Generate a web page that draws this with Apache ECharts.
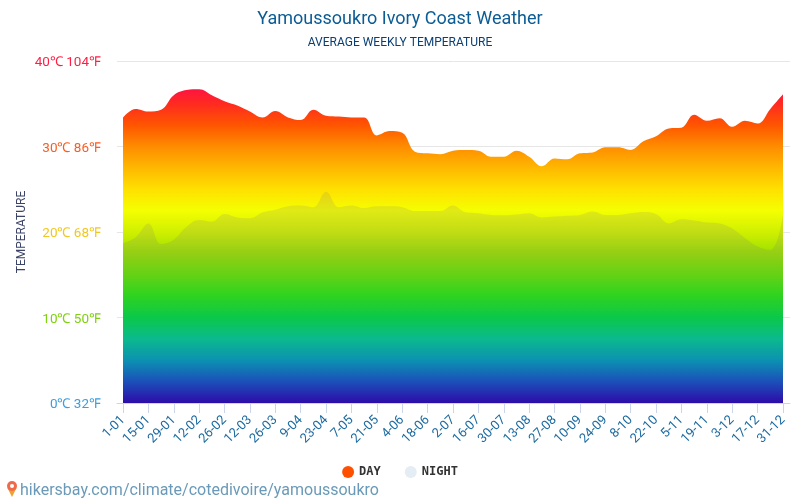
<!DOCTYPE html>
<html>
<head>
<meta charset="utf-8">
<style>html,body{margin:0;padding:0;background:#fff}#chart{width:800px;height:500px}</style>
<script src="https://cdn.jsdelivr.net/npm/echarts@6/dist/echarts.min.js"></script>
</head>
<body>
<div id="chart"></div>
<script>
// weekly values, 1 Jan to 31 Dec
const weeks = ['1-01','8-01','15-01','22-01','29-01','5-02','12-02','19-02','26-02','5-03','12-03','19-03','26-03','2-04','9-04','16-04','23-04','30-04','7-05','14-05','21-05','28-05','4-06','11-06','18-06','25-06','2-07','9-07','16-07','23-07','30-07','6-08','13-08','20-08','27-08','3-09','10-09','17-09','24-09','1-10','8-10','15-10','22-10','29-10','5-11','12-11','19-11','26-11','3-12','10-12','17-12','24-12','31-12'];
const dayTemp = [33.4,34.4,34.1,34.3,36.0,36.6,36.7,36.0,35.3,34.8,34.1,33.4,34.15,33.4,33.1,34.3,33.6,33.5,33.4,33.4,31.3,31.8,31.6,29.4,29.2,29.1,29.5,29.6,29.5,28.8,28.8,29.5,28.8,27.7,28.6,28.5,29.2,29.3,29.9,29.9,29.6,30.6,31.2,32.1,32.2,33.7,33.0,33.3,32.3,33.0,32.7,34.4,36.1];
const nightTemp = [18.7,19.4,21.0,18.6,19.1,20.6,21.4,21.2,22.1,21.7,21.6,22.3,22.6,23.0,23.1,22.9,24.7,22.9,23.1,22.8,23.0,23.0,22.9,22.45,22.45,22.45,23.1,22.3,22.2,22.0,21.95,22.05,22.2,21.7,21.8,21.9,22.0,22.4,22.0,22.0,22.2,22.35,22.1,21.0,21.5,21.35,21.1,21.0,20.4,19.3,18.3,17.9,22.0];
const tempTicks = { 0: '0℃ 32℉', 10: '10℃ 50℉', 20: '20℃ 68℉', 30: '30℃ 86℉', 40: '40℃ 104℉' };
const tickColors = { 0: '#3a9ee0', 10: '#7fd010', 20: '#f0c820', 30: '#ff5a1e', 40: '#ff1f44' };
// colour ramp from 0 to 37.5 in 2.5 degree steps, lower part is under the night overlay
const ramp = ['#2701aa','#144fbd','#019ab4','#00c88c','#00d83e','#28e50e','#67e402','#9ce000','#d0f000','#f4ff00','#ffe000','#ffb800','#ff8c00','#ff5500','#ff2a20','#ff0a50'];

const chart = echarts.init(document.getElementById('chart'));
chart.setOption({
  animation: false,
  textStyle: { fontFamily: 'Roboto' },
  title: [
    { text: 'Yamoussoukro Ivory Coast Weather', left: 'center', top: 5, textStyle: { fontSize: 18, fontWeight: 'normal', color: '#0b5c94' } },
    { text: 'AVERAGE WEEKLY TEMPERATURE', left: 'center', top: 32, textStyle: { fontSize: 12, fontWeight: 'normal', color: '#0a3f73' } }
  ],
  legend: {
    bottom: 17, left: 'center', itemGap: 24, itemWidth: 12, itemHeight: 12, icon: 'circle',
    textStyle: { fontFamily: 'DejaVu Sans Mono', fontWeight: 'bold', fontSize: 12, color: '#333' },
    data: [
      { name: 'DAY', itemStyle: { color: '#ff5000' } },
      { name: 'NIGHT', itemStyle: { color: '#e4edf3' } }
    ]
  },
  visualMap: { show: false, type: 'continuous', seriesIndex: 0, dimension: 1, min: 0, max: 37.5, inRange: { color: ramp } },
  grid: [
    { left: 123, right: 17, top: 61, bottom: 97 },
    { left: 117, right: 10, top: 61, bottom: 97 }
  ],
  xAxis: [
    {
      type: 'category', gridIndex: 0, data: weeks, boundaryGap: false, z: 5,
      axisLine: { show: false },
      axisTick: { show: true, length: 10, interval: 1, alignWithLabel: true, lineStyle: { color: '#ccd6eb' } },
      axisLabel: { interval: 1, rotate: 45, fontSize: 13, margin: 15, color: '#1a6aa0', showMaxLabel: true }
    },
    {
      type: 'category', gridIndex: 1, data: ['', ''], boundaryGap: false,
      axisLine: { lineStyle: { color: '#ccd6eb' } }, axisTick: { show: false }, axisLabel: { show: false }
    }
  ],
  yAxis: [
    {
      type: 'value', gridIndex: 0, min: 0, max: 40, interval: 10,
      name: 'TEMPERATURE', nameLocation: 'middle', nameGap: 95, nameMoveOverlap: false, nameTextStyle: { fontSize: 12, color: '#3c4468' },
      axisLine: { show: false }, axisTick: { show: false }, splitLine: { show: false },
      axisLabel: {
        margin: 22, fontSize: 13.5, verticalAlign: 'top', lineHeight: 4,
        formatter: v => tempTicks[v],
        color: v => tickColors[v]
      }
    },
    {
      type: 'value', gridIndex: 1, min: 0, max: 40, interval: 10,
      axisLine: { show: false }, axisTick: { show: false }, axisLabel: { show: false },
      splitLine: { lineStyle: { color: '#e6e6e6' } }
    }
  ],
  series: [
    {
      name: 'DAY', type: 'line', smooth: 0.4, symbol: 'none', z: 2,
      data: dayTemp, lineStyle: { width: 0 }, areaStyle: { opacity: 1 }
    },
    {
      name: 'NIGHT', type: 'line', smooth: 0.4, symbol: 'none', z: 3,
      data: nightTemp, lineStyle: { width: 0 }, itemStyle: { color: '#e4edf3' },
      areaStyle: { color: 'rgba(85,85,160,0.18)' }
    }
  ],
  graphic: [
    {
      type: 'text', x: 20, y: 483,
      style: { text: 'hikersbay.com/climate/cotedivoire/yamoussoukro', font: '16px Roboto', fill: '#6a9ab8' }
    },
    { type: 'polygon', shape: { points: [[7.5, 488], [12, 497], [16.5, 488]] }, style: { fill: '#f0a030' } },
    { type: 'circle', shape: { cx: 12, cy: 486, r: 5 }, style: { fill: '#ee6a4a' } },
    { type: 'circle', shape: { cx: 12, cy: 486, r: 2 }, style: { fill: '#fff' } }
  ]
});
</script>
</body>
</html>
